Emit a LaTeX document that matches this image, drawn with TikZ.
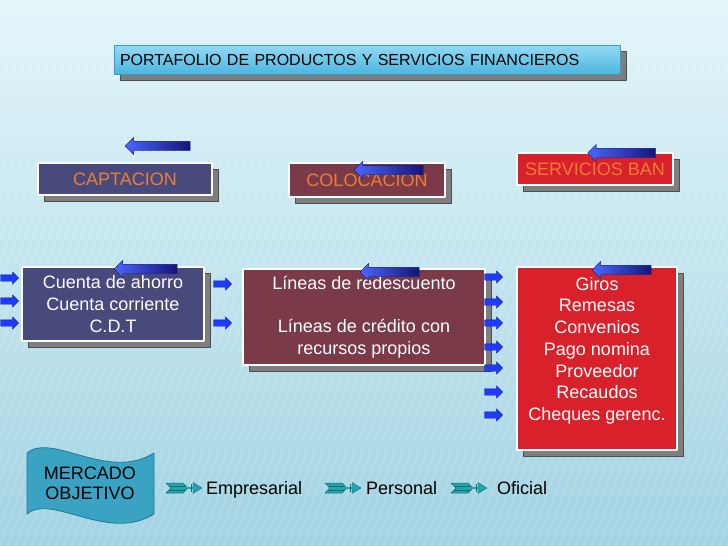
\documentclass[tikz,border=0pt]{standalone}
\usepackage{fontspec}
\setmainfont{Liberation Sans}
\usetikzlibrary{shapes.arrows,shadows}
\definecolor{fondoa}{HTML}{E2F6FA}
\definecolor{fondob}{HTML}{B4E1EC}
\definecolor{fondoc}{HTML}{A3D3E2}
\definecolor{azulcap}{HTML}{484A7C}
\definecolor{vinocol}{HTML}{7A3A48}
\definecolor{rojoserv}{HTML}{D9212B}
\definecolor{naranja}{HTML}{EE7D36}
\definecolor{celestea}{HTML}{92DAF4}
\definecolor{celesteb}{HTML}{4DB5DF}
\definecolor{celestec}{HTML}{3A9CC4}
\definecolor{gris}{HTML}{7E7E7E}
\definecolor{grisosc}{HTML}{4E4E4E}
\definecolor{azulflecha}{HTML}{1E3CFF}
\definecolor{azulnoche}{HTML}{14147A}
\definecolor{azulclaro}{HTML}{4A66FF}
\definecolor{verdemar}{HTML}{22A4AE}
\definecolor{verdeosc}{HTML}{146E76}
\definecolor{mercado}{HTML}{3AA2C2}
\definecolor{mercadob}{HTML}{1E7A98}

\begin{document}
\begin{tikzpicture}[x=1pt,y=-1pt,line join=round,
  sombra/.style={drop shadow={shadow xshift=6pt,shadow yshift=-6pt,fill=gris,draw=grisosc,line width=0.8pt,opacity=1}},
  caja/.style={sombra,draw=white,line width=2.2pt,inner sep=0pt,text=white,align=center,font=\fontsize{18}{21.7}\selectfont},
  cabecera/.style={caja,text=naranja,font=\fontsize{18}{21}\selectfont},
  sflecha/.style={single arrow,fill=azulflecha,draw=azulnoche,line width=0.3pt,minimum height=18pt,minimum width=0pt,single arrow head extend=3pt,inner xsep=0pt,inner ysep=3pt},
  gflecha/.style={single arrow,shape border rotate=180,left color=azulclaro,right color=azulnoche,draw=azulnoche,line width=0.3pt,minimum width=0pt,single arrow head extend=4pt,inner xsep=0pt,inner ysep=4.5pt},
  leyenda/.style={anchor=base west,inner sep=0pt,font=\fontsize{18}{21}\selectfont},
  pluma/.pic={
    \fill[verdemar,draw=verdeosc,line width=0.5pt] (0,-5) -- (17,-5) -- (22,0) -- (17,5) -- (0,5) -- (5,0) -- cycle;
    \draw[verdeosc,line width=0.6pt] (3,-1.8) -- (19,-1.8) (3,1.8) -- (19,1.8);
    \draw[verdemar,line width=1.6pt] (20,0) -- (29,0);
    \draw[verdeosc,line width=0.8pt] (25,-4) -- (25,4);
    \fill[verdemar,draw=verdeosc,line width=0.4pt] (27,-5.5) -- (36,0) -- (27,5.5) -- cycle;
  }]
\useasboundingbox (0,0) rectangle (728,546);
\shade[top color=fondoa,middle color=fondob,bottom color=fondoc] (0,0) rectangle (728,546);
\begin{scope}
\clip (0,0) rectangle (728,546);
\foreach \i in {-200,-192,...,728}
  \draw[white,opacity=0.18,line width=1.2pt] (\i,546) -- (\i+200,0);
\end{scope}

% titulo
\node[sombra,draw=celestec,line width=0.8pt,top color=celestea,bottom color=celesteb,minimum width=506pt,minimum height=29pt,text width=494pt,align=left,inner sep=0pt,font=\fontsize{16}{19}\selectfont] (titulo) at (367,59.5) {PORTAFOLIO DE PRODUCTOS Y SERVICIOS FINANCIEROS};

% cabeceras
\node[cabecera,fill=azulcap,minimum width=174pt,minimum height=32pt] (captacion) at (125,179) {CAPTACION};
\node[cabecera,fill=vinocol,minimum width=156pt,minimum height=34pt] (colocacion) at (367,180) {COLOCACION};
\node[cabecera,fill=rojoserv,minimum width=156pt,minimum height=32pt] (servicios) at (595,169) {SERVICIOS BAN};

% cajas
\node[caja,fill=azulcap,minimum width=182pt,minimum height=74pt] (cuentas) at (113,304) {Cuenta de ahorro\\Cuenta corriente\\C.D.T};
\node[caja,fill=vinocol,minimum width=242pt,minimum height=96pt] (lineas) at (364,317) {L\'ineas de redescuento\\[21.7pt]L\'ineas de cr\'edito con\\recursos propios};
\node[caja,fill=rojoserv,minimum width=160pt,minimum height=183pt] (giros) at (597,358.5) {};
\node[anchor=north,inner sep=0pt,text=white,align=center,font=\fontsize{18}{21.7}\selectfont] (girostxt) at (597,277) {Giros\\Remesas\\Convenios\\Pago nomina\\Proveedor\\Recaudos\\Cheques gerenc.};

% flechas pequenas
\node[sflecha] (fa1) at (8,278) {};
\node[sflecha] (fa2) at (8,301) {};
\node[sflecha] (fa3) at (8,323) {};
\node[sflecha] (fb1) at (221,284) {};
\node[sflecha] (fb2) at (221,323) {};
\foreach \y [count=\k] in {277,302,323,347,368,392,415}
  \node[sflecha] (fc\k) at (492,\y) {};

% flechas grandes
\node[gflecha,minimum height=65pt] (ga) at (160,146) {};
\node[gflecha,minimum height=69pt] (gb) at (391,170) {};
\node[gflecha,minimum height=68pt] (gc) at (624,153) {};
\node[gflecha,minimum height=63pt] (gd) at (148,269) {};
\node[gflecha,minimum height=59pt] (ge) at (392,272) {};
\node[gflecha,minimum height=59pt] (gf) at (624,270) {};

% mercado objetivo
\draw[fill=mercado,draw=mercadob,line width=0.8pt] (27,453) .. controls (52,432) and (108,482) .. (154,453) -- (154,514) .. controls (108,543) and (52,493) .. (27,514) -- cycle;
\node[align=center,inner sep=0pt,font=\fontsize{18}{20}\selectfont] (mercado) at (90,483) {MERCADO\\OBJETIVO};

\pic (p1) at (166,488) {pluma};
\pic (p2) at (325,488) {pluma};
\pic (p3) at (451,488) {pluma};
\node[leyenda] (empresarial) at (206,494) {Empresarial};
\node[leyenda] (personal) at (366,494) {Personal};
\node[leyenda] (oficial) at (497,494) {Oficial};
\end{tikzpicture}
\end{document}
